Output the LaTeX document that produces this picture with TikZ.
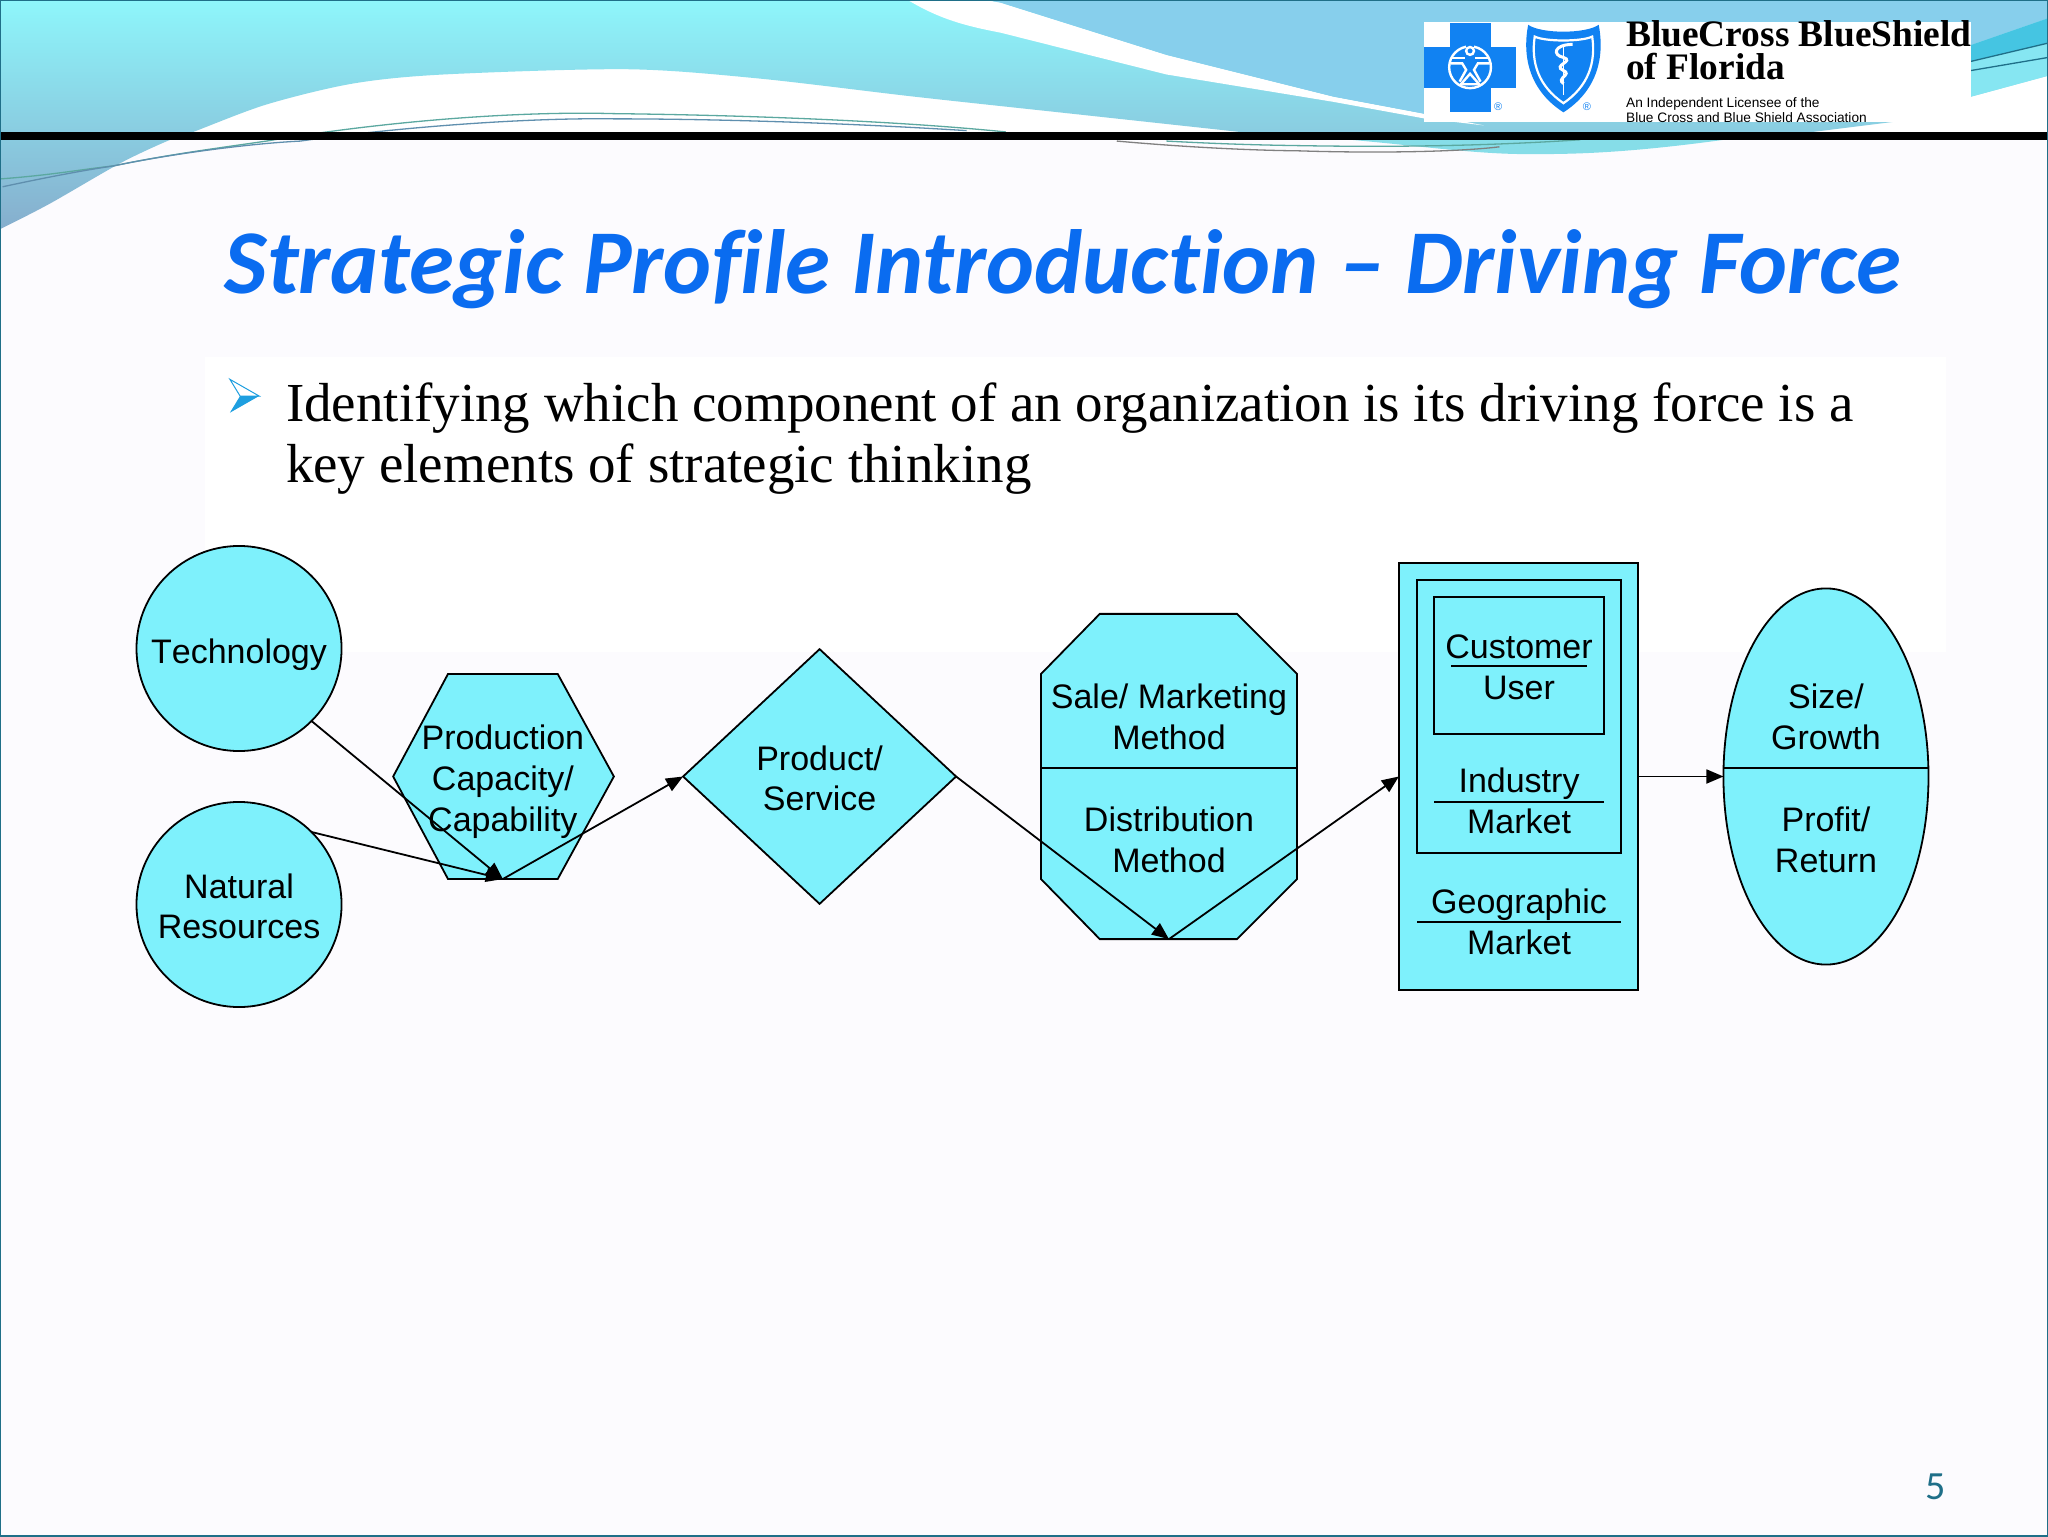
\documentclass[tikz,border=0pt]{standalone}
\usepackage{fontspec}
\usepackage{tikz}
\usetikzlibrary{shapes.geometric,arrows.meta}
\setmainfont{Liberation Sans}
\newfontfamily\titlefont[Ligatures=NoCommon]{Carlito}
\newfontfamily\bodyfont{Liberation Serif}
\newcommand{\unitScale}[0]{0.65306}
\definecolor{shapeFill}{HTML}{7EF1FC}
\definecolor{logoBlue}{HTML}{1182F2}
\definecolor{skyBlue}{HTML}{87CFEC}
\definecolor{titleBlue}{HTML}{0A6CF0}
\definecolor{edgeTeal}{HTML}{1F6F88}
\definecolor{pageTone}{HTML}{FCFBFE}
\definecolor{waveTop}{HTML}{8EF6FB}
\definecolor{waveMid}{HTML}{83DCEB}
\definecolor{waveLow}{HTML}{86AECD}
\definecolor{wireGreen}{HTML}{5BA8A0}
\definecolor{wireBlue}{HTML}{5F8FAE}
\begin{document}
\begin{tikzpicture}[x=\unitScale pt,y=-\unitScale pt,>={Triangle[length=8.5pt,width=7pt]},line width=0.9pt]
  \tikzset{
    shapeBox/.style={draw,fill=shapeFill,inner sep=0pt,outer sep=0pt},
    emptyBox/.style={inner sep=0pt,outer sep=0pt},
    lbl/.style={align=center,inner sep=0pt,font=\fontsize{17}{20.3}\selectfont},
    wire/.style={line width=0.65pt}
  }
  \useasboundingbox (0,0) rectangle (1568,1176);
  \fill[pageTone] (0,0) rectangle (1568,1176);
  \fill[white] (157,273) rectangle (1490,499);
  \fill[white] (0,0) rectangle (1568,101);
  % header waves
  \shade[top color=waveTop,middle color=waveMid,bottom color=waveLow]
    plot[smooth] coordinates {(949,101) (820,87) (700,74) (580,60) (480,53) (340,57) (270,64) (204,80) (148,101) (128,108) (92,125) (38,156) (1,175)}
    -- (0,175) -- (0,0) -- (1568,0) -- (1568,58) -- (1509,74) -- (1452,93) -- (1388,101) -- cycle;
  \fill[color={rgb,255:red,134;green,221;blue,232}] (1034,107) .. controls (1090,112) and (1130,118) .. (1170,118) .. controls (1200,118) and (1240,118) .. (1320,107) -- cycle;
  \fill[white] (695,0) .. controls (720,15) and (740,20) .. (766,25) -- (893,57) -- (1021,78) -- (1090,90.6) -- (1136,96) -- (1090,87) -- (1021,74) -- (893,42) -- (766,2) -- (755,0) -- cycle;
  \fill[skyBlue] (755,0) -- (766,2) -- (893,42) -- (1021,74) -- (1090,87) -- (1509,87) -- (1509,34.5) -- (1568,14) -- (1568,0) -- cycle;
  \fill[color={rgb,255:red,69;green,197;blue,226}] (1509,34.5) -- (1568,14) -- (1568,33) -- (1509,47) -- cycle;
  \fill[color={rgb,255:red,134;green,230;blue,242}] (1509,47) -- (1568,33) -- (1568,58) -- (1509,74) -- cycle;
  \draw[wire,edgeTeal] (1509,47) -- (1568,33);
  \draw[wire,edgeTeal] (1509,54) -- (1568,44);
  \draw[wire,wireGreen] (0,137) .. controls (40,134) and (60,130) .. (87,127) .. controls (130,118) and (170,113) .. (204,108) .. controls (300,92) and (400,85) .. (470,87) .. controls (560,88) and (680,92) .. (770,101);
  \draw[wire,wireBlue] (2,143) .. controls (30,137) and (60,131) .. (87,127) .. controls (130,118) and (190,110) .. (230,108) .. controls (300,98) and (400,90) .. (470,91) .. controls (560,91) and (660,95) .. (740,100);
  \draw[wire,gray] (855,108) .. controls (900,112) and (950,115) .. (995,115.5) .. controls (1040,117) and (1110,117) .. (1148,112.4);
  \draw[wire,wireGreen] (893,108) .. controls (930,110) and (960,111) .. (995,111.5) .. controls (1080,113) and (1150,111) .. (1210,107);
  \fill[black] (0,101.3) rectangle (1568,107.3);
  \draw[edgeTeal,line width=0.8pt] (0,0) rectangle (1568,1176);
  % logo
  \fill[white] (1090,16.6) rectangle (1509,93.4);
  \fill[logoBlue] (1110,17.5) rectangle (1141.6,85.8);
  \fill[logoBlue] (1090,36) rectangle (1161,67);
  \begin{scope}[shift={(1125.5,51.5)},white,line width=1.2pt]
    \draw (0,0) circle (16);
    \fill[logoBlue] (-3,-18) rectangle (3,-9);
    \draw (0,-12.5) circle (3);
    \draw (-14,-7) -- (-4,-7);
    \draw (14,-7) -- (4,-7);
    \draw (-15,-3) -- (-6,-3) -- (-3,2) -- (-8,11);
    \draw (15,-3) -- (6,-3) -- (3,2) -- (8,11);
    \draw (0,5) -- (-7,13) -- (7,13) -- cycle;
  \end{scope}
  \fill[logoBlue] (1170,19) .. controls (1180,26) and (1214,26) .. (1224,19) .. controls (1229,45) and (1222,70) .. (1197,86) .. controls (1172,70) and (1165,45) .. (1170,19) -- cycle;
  \draw[white,line width=1.1pt] (1175,28) .. controls (1183,32) and (1211,32) .. (1219,28) .. controls (1222,48) and (1216,66) .. (1197,79) .. controls (1178,66) and (1172,48) .. (1175,28) -- cycle;
  \draw[white,line width=1.5pt] (1204,34) .. controls (1190,34) and (1188,42) .. (1197,44) .. controls (1206,47) and (1188,50) .. (1197,54) .. controls (1204,57) and (1191,60) .. (1197,64);
  \draw[white,line width=0.8pt] (1197,36) -- (1197,73);
  \node[emptyBox,text=logoBlue,font=\fontsize{5.5}{6}\selectfont] (regA) at (1147,82) {®};
  \node[emptyBox,text=logoBlue,font=\fontsize{5.5}{6}\selectfont] (regB) at (1215,82) {®};
  \node[emptyBox,anchor=base west,font=\bodyfont\bfseries\fontsize{18.7}{20}\selectfont] (bcbsA) at (1245,35.5) {BlueCross BlueShield};
  \node[emptyBox,anchor=base west,font=\bodyfont\bfseries\fontsize{18.7}{20}\selectfont] (bcbsB) at (1245,61) {of Florida};
  \node[emptyBox,anchor=base west,font=\fontsize{6.85}{8}\selectfont] (licA) at (1245,82) {An Independent Licensee of the};
  \node[emptyBox,anchor=base west,font=\fontsize{6.85}{8}\selectfont] (licB) at (1245,93.5) {Blue Cross and Blue Shield Association};
  % title and bullet
  \node[emptyBox,anchor=base west,text=titleBlue,font=\titlefont\bfseries\itshape\fontsize{45.6}{50}\selectfont] (title) at (172,225) {Strategic Profile Introduction – Driving Force};
  \fill[color={rgb,255:red,30;green,159;blue,224}] (176,316) -- (183.8,303.2) -- (198.4,303.2) -- cycle;
  \draw[color={rgb,255:red,30;green,159;blue,224},line width=0.5pt] (176,290.4) -- (198.4,303.2) -- (183.8,303.2) -- cycle;
  \node[emptyBox,anchor=base west,font=\bodyfont\fontsize{27.5}{30}\selectfont] (bodyA) at (219,322.4) {Identifying which component of an organization is its driving force is a};
  \node[emptyBox,anchor=base west,font=\bodyfont\fontsize{27.5}{30}\selectfont] (bodyB) at (219,369.6) {key elements of strategic thinking};
  % shapes
  \node[shapeBox,circle,minimum size=157*\unitScale pt] (tech) at (183,496.5) {};
  \node[lbl] (techLbl) at (183,501.5) {T\kern0pt echnology};
  \node[shapeBox,circle,minimum size=157*\unitScale pt] (nat) at (183,692.5) {};
  \node[lbl] (natLbl) at (183,694) {Natural\\Resources};
  \draw[shapeBox] (301,594.5) -- (343,516) -- (427,516) -- (470,594.5) -- (427,673) -- (343,673) -- cycle;
  \node[emptyBox,minimum width=169*\unitScale pt,minimum height=157*\unitScale pt] (prod) at (385,594.5) {};
  \node[lbl] (prodLbl) at (385,598.5) {Production\\Capacity/\\Capability};
  \node[shapeBox,diamond,minimum width=209*\unitScale pt,minimum height=195*\unitScale pt] (svc) at (627.5,594.5) {};
  \node[lbl] (svcLbl) at (627.5,596) {Product/\\Service};
  \draw[shapeBox] (842,470) -- (947,470) -- (993,516) -- (993,673) -- (947,719) -- (842,719) -- (797,673) -- (797,516) -- cycle;
  \node[emptyBox,minimum width=196*\unitScale pt,minimum height=249*\unitScale pt] (method) at (895,594.5) {};
  \draw (797,588) -- (993,588);
  \node[lbl] (saleLbl) at (895,549) {Sale/ Marketing\\Method};
  \node[lbl] (distLbl) at (895,643) {Distribution\\Method};
  \node[shapeBox,minimum width=183*\unitScale pt,minimum height=327*\unitScale pt] (geo) at (1162.5,594.5) {};
  \node[shapeBox,minimum width=156*\unitScale pt,minimum height=209*\unitScale pt] (ind) at (1163,548.5) {};
  \node[shapeBox,minimum width=130*\unitScale pt,minimum height=105*\unitScale pt] (cust) at (1163,509.5) {};
  \node[lbl] (custLbl) at (1163,511) {Customer\\User};
  \node[lbl] (indLbl) at (1163,613) {Industry\\Market};
  \node[lbl] (geoLbl) at (1163,706) {Geographic\\Market};
  \draw (1111,510) -- (1215,510);
  \draw (1098,614) -- (1228,614);
  \draw (1085,706) -- (1241,706);
  \node[shapeBox,ellipse,minimum width=157*\unitScale pt,minimum height=288*\unitScale pt] (size) at (1398,594.5) {};
  \draw (1320.2,588) -- (1475.8,588);
  \node[lbl] (sizeLbl) at (1398,549) {Size/\\Growth};
  \node[lbl] (profitLbl) at (1398,643) {Profit/\\Return};
  % connectors
  \draw[->] (tech.-45) -- (prod.south);
  \draw[->] (nat.45) -- (prod.south);
  \draw[->] (prod.south) -- (svc.west);
  \draw[->] (svc.east) -- (method.south);
  \draw[->] (method.south) -- (geo.west);
  \draw[->] (geo.east) -- (size.west);
  \node[emptyBox,text=edgeTeal,font=\titlefont\fontsize{20}{24}\selectfont] (pageNum) at (1482,1138) {5};
\end{tikzpicture}
\end{document}
